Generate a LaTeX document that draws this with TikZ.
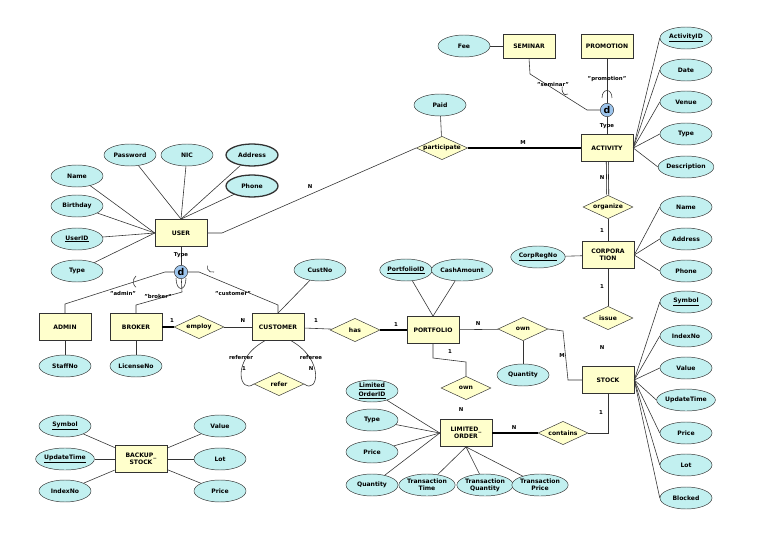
\documentclass[tikz,border=0pt]{standalone}
\usepackage{fontspec}
\setmainfont{DejaVu Sans}
\usetikzlibrary{shapes.geometric}
\definecolor{entfill}{HTML}{FFFFCC}
\definecolor{attfill}{HTML}{C2F0F0}
\definecolor{dfill}{HTML}{9CC4EC}
\begin{document}
\begin{tikzpicture}[x=0.03cm,y=-0.03cm,
  font=\fontsize{5.2}{6}\selectfont\bfseries,
  ent/.style={draw=black!80,fill=entfill,minimum width=1.56cm,minimum height=0.82cm,align=center,inner sep=1pt},
  rel/.style={diamond,aspect=2.3,draw=black!80,fill=entfill,minimum width=1.5cm,minimum height=0.7cm,inner sep=0pt},
  att/.style={ellipse,draw=black!80,fill=attfill,minimum width=1.56cm,minimum height=0.66cm,inner sep=0pt,align=center},
  mv/.style={att,line width=1.1pt},
  dsk/.style={circle,draw=black!80,fill=dfill,minimum size=0.4cm,inner sep=0pt,font=\fontsize{8}{8}\selectfont\bfseries},
  ln/.style={draw=black!80,line width=0.5pt},
  tk/.style={draw=black,line width=1.3pt},
  dbl/.style={draw=black,double=white,double distance=1.2pt,line width=0.5pt},
  lab/.style={font=\fontsize{4.6}{5}\selectfont\bfseries,inner sep=1pt}]
\useasboundingbox (0,0) rectangle (768,543);

% entities
\node[ent] (user) at (181,233) {USER};
\node[ent] (admin) at (65,327) {ADMIN};
\node[ent] (broker) at (136,327) {BROKER};
\node[ent] (cust) at (278,327) {CUSTOMER};
\node[ent] (port) at (433,330) {PORTFOLIO};
\node[ent] (stock) at (608,380) {STOCK};
\node[ent] (lord) at (466,433) {LIMITED\_\\ORDER};
\node[ent] (act) at (607,148) {ACTIVITY};
\node[ent] (corp) at (608,255) {CORPORA\\TION};
\node[ent,minimum height=0.72cm] (sem) at (529,46) {SEMINAR};
\node[ent,minimum height=0.72cm] (promo) at (607,46) {PROMOTION};
\node[ent] (bstock) at (141,459) {BACKUP\_\\STOCK};

% relationships
\node[rel] (part) at (442,148) {participate};
\node[rel] (org) at (608,207) {organize};
\node[rel] (issue) at (608,318) {issue};
\node[rel] (employ) at (199,327) {employ};
\node[rel] (has) at (355,330) {has};
\node[rel] (own1) at (523,329) {own};
\node[rel] (own2) at (466,388) {own};
\node[rel] (cont) at (563,433) {contains};
\node[rel] (refer) at (279,384) {refer};

% specialisation circles
\node[dsk] (d1) at (181,272) {d};
\node[dsk] (d2) at (607,110) {d};

% attributes of USER
\node[att] (uname) at (77,176) {Name};
\node[att] (ubirth) at (77,206) {Birthday};
\node[att] (uid) at (77,239) {\underline{UserID}};
\node[att] (utype) at (77,271) {Type};
\node[att] (upass) at (130,155) {Password};
\node[att] (unic) at (187,155) {NIC};
\node[mv] (uaddr) at (252,155) {Address};
\node[mv] (uphone) at (252,186) {Phone};
\foreach \a in {uname,ubirth,uid,utype} \draw[ln] (\a) -- (user.west);
\foreach \a in {upass,unic,uaddr,uphone} \draw[ln] (\a) -- (user.north);

% attributes of ACTIVITY and subtypes
\node[att] (fee) at (464,46) {Fee};
\node[att] (paid) at (440,105) {Paid};
\node[att] (aid) at (686,38) {\underline{ActivityID}};
\node[att] (adate) at (686,70) {Date};
\node[att] (avenue) at (686,102) {Venue};
\node[att] (atype) at (686,134) {Type};
\node[att] (adesc) at (686,167) {Description};
\foreach \a in {aid,adate,avenue,atype,adesc} \draw[ln] (\a.west) -- (act.east);
\draw[ln] (fee) -- (sem);
\draw[ln] (paid) -- (part);

% attributes of CORPORATION
\node[att] (cname) at (686,207) {Name};
\node[att] (caddr) at (686,239) {Address};
\node[att] (cphone) at (686,271) {Phone};
\node[att] (creg) at (538,257) {\underline{CorpRegNo}};
\foreach \a in {cname,caddr,cphone} \draw[ln] (\a.west) -- (corp.east);
\draw[ln] (creg) -- (corp);

% attributes of STOCK
\node[att] (ssym) at (686,302) {\underline{Symbol}};
\node[att] (sidx) at (686,336) {IndexNo};
\node[att] (sval) at (686,368) {Value};
\node[att] (supd) at (686,400) {UpdateTime};
\node[att] (sprice) at (686,433) {Price};
\node[att] (slot) at (686,465) {Lot};
\node[att] (sblk) at (686,498) {Blocked};
\foreach \a in {ssym,sidx,sval,supd,sprice,slot,sblk} \draw[ln] (\a.west) -- (stock.east);

% other attributes
\node[att] (custno) at (320,270) {CustNo};
\node[att] (pid) at (406,270) {\underline{PortfolioID}};
\node[att] (cash) at (462,270) {CashAmount};
\node[att] (staff) at (65,366) {StaffNo};
\node[att] (lic) at (136,366) {LicenseNo};
\node[att] (qty) at (523,375) {Quantity};
\draw[ln] (custno) -- (cust.north);
\draw[ln] (pid) -- (port.north);
\draw[ln] (cash) -- (port.north);
\draw[ln] (staff) -- (admin);
\draw[ln] (lic) -- (broker);
\draw[ln] (qty) -- (own1);

% attributes of LIMITED_ORDER
\node[att] (loid) at (372,391) {\underline{Limited}\\\underline{OrderID}};
\node[att] (ltype) at (372,420) {Type};
\node[att] (lprice) at (372,452) {Price};
\node[att] (lqty) at (372,485) {Quantity};
\node[att] (ltt) at (427,485) {Transaction\\Time};
\node[att] (ltq) at (485,485) {Transaction\\Quantity};
\node[att] (ltp) at (540,485) {Transaction\\Price};
\foreach \a in {loid,ltype,lprice,lqty} \draw[ln] (\a) -- (lord.west);
\foreach \a in {ltt,ltq,ltp} \draw[ln] (\a) -- (lord.south);

% attributes of BACKUP_STOCK
\node[att] (bsym) at (65,426) {\underline{Symbol}};
\node[att] (bupd) at (65,459) {\underline{UpdateTime}};
\node[att] (bidx) at (65,491) {IndexNo};
\node[att] (bval) at (220,426) {Value};
\node[att] (blot) at (220,459) {Lot};
\node[att] (bprice) at (220,491) {Price};
\foreach \a in {bsym,bupd,bidx,bval,blot,bprice} \draw[ln] (\a) -- (bstock);

% relationships lines
\coordinate (ua) at (222,233);
\draw[ln] (user.east) -- (ua) -- (part.west);
\node[lab] at (310,187) {N};
\draw[tk] (part) -- (act);
\node[lab] at (523,143) {M};
\draw[dbl] (act) -- (org);
\node[lab] at (602,178) {N};
\draw[ln] (org) -- (corp);
\node[lab] at (602,231) {1};
\draw[ln] (corp) -- (issue);
\node[lab] at (602,287) {1};
\draw[dbl] (issue) -- (stock);
\node[lab] at (602,348) {N};
\draw[tk] (broker) -- (employ);
\node[lab] at (172,321) {1};
\draw[ln] (employ) -- (cust);
\node[lab] at (243,321) {N};
\draw[ln] (cust) -- (has);
\node[lab] at (316,321) {1};
\draw[tk] (has) -- (port);
\node[lab] at (396,325) {1};
\draw[ln] (port) -- (own1);
\node[lab] at (478,324) {N};
\coordinate (o1a) at (563,331);
\coordinate (o1b) at (568,380);
\draw[ln] (own1.east) -- (o1a) -- (o1b) -- (stock.west);
\node[lab] at (562,356) {M};
\coordinate (pa) at (433,358);
\coordinate (pb) at (466,362);
\draw[ln] (port.south) -- (pa) -- (pb) -- (own2.north);
\node[lab] at (450,352) {1};
\draw[dbl] (own2) -- (lord);
\node[lab] at (461,410) {N};
\draw[tk] (lord) -- (cont);
\node[lab] at (514,428) {N};
\coordinate (ca) at (608,433);
\draw[ln] (cont.east) -- (ca) -- (stock.south);
\node[lab] at (601,413) {1};

% recursive refer
\draw[ln] ([xshift=-0.4cm]cust.south) .. controls (230,360) and (240,395) .. (refer.west);
\draw[ln] ([xshift=0.4cm]cust.south) .. controls (325,360) and (318,395) .. (refer.east);
\node[lab] at (241,357) {referrer};
\node[lab] at (244,369) {1};
\node[lab] at (311,357) {referee};
\node[lab] at (311,369) {N};

% USER specialisation
\draw[ln] (user) -- (d1);
\node[lab] at (181,255) {Type};
\coordinate (ad1) at (165,272);
\coordinate (ad2) at (65,304);
\draw[ln] (d1) -- (ad1) -- (ad2) -- (admin.north);
\coordinate (bd1) at (182,292);
\coordinate (bd2) at (136,305);
\draw[ln] (d1) -- (bd1) -- (bd2) -- (broker.north);
\coordinate (cd1) at (199,272);
\coordinate (cd2) at (278,305);
\draw[ln] (d1) -- (cd1) -- (cd2) -- (cust.north);
\draw[ln] (136,276) arc (-70:70:-4 and 6);
\draw[ln] (176,278) .. controls (176,292) and (186,292) .. (186,278);
\draw[ln] (214,272) arc (110:-20:-5 and 5);
\node[lab] at (123,293) {"admin"};
\node[lab] at (158,296) {"broker"};
\node[lab] at (233,294) {"customer"};

% ACTIVITY specialisation
\draw[ln] (act) -- (d2);
\node[lab] at (607,126) {Type};
\draw[ln] (d2) -- (promo);
\coordinate (sd1) at (587,110);
\coordinate (sd2) at (530,74);
\draw[ln] (d2) -- (sd1) -- (sd2) -- (sem.south);
\draw[ln] (602,98) .. controls (602,88) and (612,88) .. (612,98);
\draw[ln] (568,94) arc (60:200:4 and 6);
\node[lab] at (553,84) {"seminar"};
\node[lab] at (607,79) {"promotion"};
\end{tikzpicture}
\end{document}
